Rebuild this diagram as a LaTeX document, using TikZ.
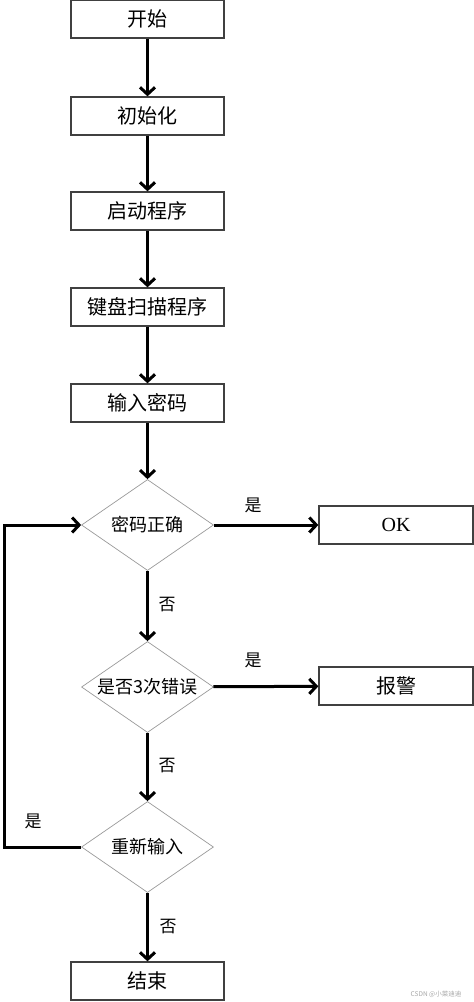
\documentclass[tikz,border=0pt]{standalone}
\usepackage{fontspec}
\setmainfont{Liberation Serif}
\newfontfamily\cjk{Noto Sans CJK SC}
\usetikzlibrary{arrows.meta,shapes.geometric}
\begin{document}
\begin{tikzpicture}[x=1pt,y=-1pt,
  procbox/.style={draw=black!75,line width=1.3pt,minimum width=153pt,minimum height=38pt,inner sep=0pt,font=\cjk\fontsize{20}{20}\selectfont},
  sidebox/.style={draw=black!75,line width=1.3pt,minimum width=154pt,minimum height=38pt,inner sep=0pt,font=\cjk\fontsize{20}{20}\selectfont},
  decision/.style={draw=black!40,line width=0.7pt,diamond,aspect=1.45,minimum width=132pt,minimum height=91pt,inner sep=0pt,font=\cjk\fontsize{18}{18}\selectfont},
  flow/.style={line width=3pt,-{Straight Barb[length=7pt,width=15pt,line width=3pt]}},
  lbl/.style={font=\cjk\fontsize{17}{17}\selectfont,inner sep=0pt}]
\useasboundingbox (0,0) rectangle (474,1002);
\node[procbox] (start) at (147.5,19) {开始};
\node[procbox] (init) at (147.5,116) {初始化};
\node[procbox] (run) at (147.5,211) {启动程序};
\node[procbox] (scan) at (147.5,307) {键盘扫描程序};
\node[procbox] (input) at (147.5,403) {输入密码};
\node[decision] (d1) at (147.5,525) {密码正确};
\node[sidebox] (ok) at (396,525) {\fontspec{Liberation Serif}\fontsize{20}{20}\selectfont OK};
\node[decision] (d2) at (147.5,687) {是否3次错误};
\node[sidebox] (alarm) at (396,686) {报警};
\node[decision] (d3) at (147.5,847) {重新输入};
\node[procbox] (stop) at (147.5,981) {结束};
\coordinate (lb) at (4,847);
\coordinate (lt) at (4,525);
\draw[flow] (start) -- (init);
\draw[flow] (init) -- (run);
\draw[flow] (run) -- (scan);
\draw[flow] (scan) -- (input);
\draw[flow] (input) -- (d1);
\draw[flow] (d1) -- (ok);
\draw[flow] (d1) -- (d2);
\draw[flow] (d2) -- (alarm);
\draw[flow] (d2) -- (d3);
\draw[flow] (d3) -- (stop);
\draw[flow] (d3.west) -- (lb) -- (lt) -- (d1.west);
\node[lbl] (y1) at (253,505) {是};
\node[lbl] (n1) at (167,605) {否};
\node[lbl] (y2) at (253,660) {是};
\node[lbl] (n2) at (167,766) {否};
\node[lbl] (y3) at (33,821) {是};
\node[lbl] (n3) at (168,927) {否};
\node[font=\fontspec{Noto Sans CJK SC}\fontsize{6.5}{6.5}\selectfont,text=black!35,inner sep=0pt] (wm) at (436,994) {CSDN @小菜迪迪};
\end{tikzpicture}
\end{document}
